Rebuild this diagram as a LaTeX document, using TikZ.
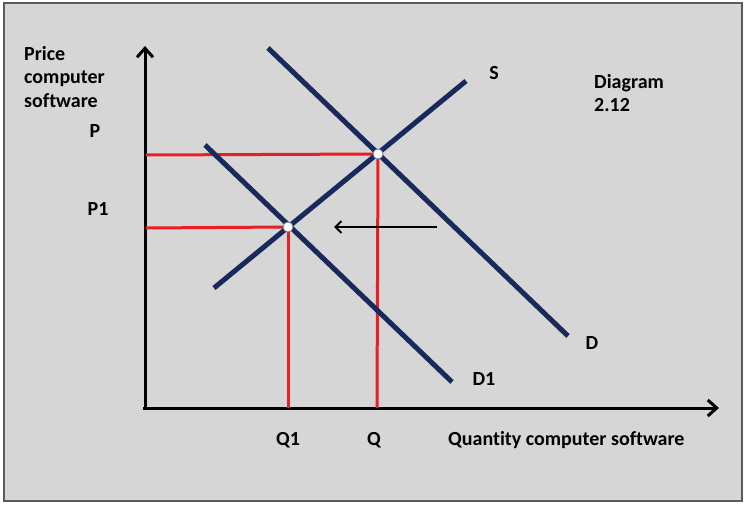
\documentclass[tikz,border=0pt]{standalone}
\usepackage{fontspec}
\setmainfont[Ligatures=NoCommon]{Carlito}
\usetikzlibrary{arrows.meta}
\definecolor{bgray}{RGB}{214,214,214}
\definecolor{navy}{RGB}{24,42,92}
\definecolor{redl}{RGB}{235,30,35}
\definecolor{frame}{RGB}{90,90,90}
\tikzset{
  lbl/.style={font=\fontsize{20}{23.5}\selectfont\bfseries, inner sep=0pt, align=left},
  curve/.style={draw=navy, line width=5pt},
  guide/.style={draw=redl, line width=3pt},
  axis/.style={draw=black, line width=3pt, -{Straight Barb[length=9pt,width=16pt,line width=3pt]}},
  shiftarrow/.style={draw=black, line width=2pt, -{Straight Barb[length=6pt,width=12pt,line width=2pt]}},
  eqdot/.style={circle, fill=white, draw=navy!60, line width=0.8pt, minimum size=10pt, inner sep=0pt},
}
\begin{document}
\begin{tikzpicture}[x=1pt,y=-1pt]
\useasboundingbox (0,0) rectangle (747,505);
\fill[white] (0,0) rectangle (747,505);
\draw[frame, fill=bgray, line width=2pt] (4,3) rectangle (742,501);
% axes
\coordinate (O) at (145,408);
\coordinate (ytip) at (145,46);
\coordinate (xtip) at (719,408);
\coordinate (O2) at (143,408);
\draw[axis] (O) -- (ytip);
\draw[axis] (O2) -- (xtip);
% curves
\coordinate (S1) at (214,288);
\coordinate (S2) at (466,81);
\coordinate (D0) at (268,48);
\coordinate (Dend) at (568,336);
\coordinate (D1a) at (205,145);
\coordinate (D1b) at (452,382);
% equilibria
\coordinate (E) at (378,154);
\coordinate (E1) at (288,227);
\coordinate (Py) at (146,155);
\coordinate (P1y) at (146,228);
\coordinate (Qx) at (377,408);
\coordinate (Q1x) at (288,408);
\draw[guide] (Py) -- (E);
\draw[guide] (P1y) -- (E1);
\draw[guide] (E) -- (Qx);
\draw[guide] (E1) -- (Q1x);
\draw[curve] (S1) -- (S2);
\draw[curve] (D0) -- (Dend);
\draw[curve] (D1a) -- (D1b);
\node[eqdot] (Edot) at (E) {};
\node[eqdot] (E1dot) at (E1) {};
% shift arrow
\coordinate (A1) at (437,227);
\coordinate (A2) at (334,227);
\draw[shiftarrow] (A1) -- (A2);
% labels
\node[lbl, anchor=west] (ylab) at (24,77) {Price\\computer\\software};
\node[lbl] (Plab) at (95,131) {P};
\node[lbl] (P1lab) at (98,209) {P1};
\node[lbl] (Slab) at (494,73) {S};
\node[lbl] (Dlab) at (592,343) {D};
\node[lbl] (D1lab) at (484,379) {D1};
\node[lbl, anchor=west] (diag) at (594,93) {Diagram\\2.12};
\node[lbl] (Q1lab) at (288,440) {Q1};
\node[lbl] (Qlab) at (374,440) {Q};
\node[lbl, anchor=west] (xlab) at (448,440) {Quantity computer software};
\end{tikzpicture}
\end{document}
